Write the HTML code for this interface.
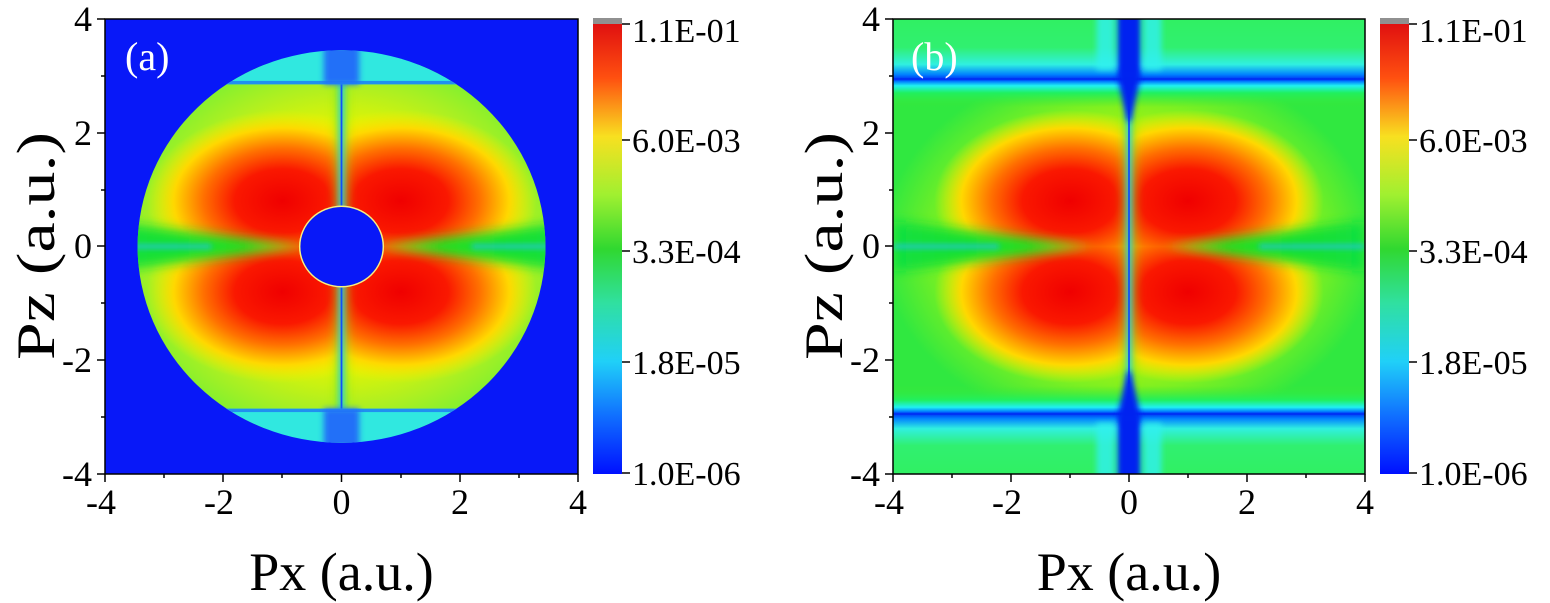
<!DOCTYPE html>
<html><head><style>body{margin:0;background:#fff}svg{display:block}text{font-family:"Liberation Serif",serif;fill:#000}</style></head><body>
<svg width="1550" height="603" viewBox="0 0 1550 603">
<defs>
<filter id="bl" filterUnits="userSpaceOnUse" x="-5" y="-5" width="10" height="10"><feGaussianBlur stdDeviation="0.1"/></filter>
<filter id="bl2" filterUnits="userSpaceOnUse" x="-5" y="-5" width="10" height="10"><feGaussianBlur stdDeviation="0.05"/></filter>
<radialGradient id="lobe" cx="0.5" cy="0.5" r="0.5">
<stop offset="0" stop-color="#f00000"/>
<stop offset="0.35" stop-color="#fa1800"/>
<stop offset="0.58" stop-color="#ff7000"/>
<stop offset="0.8" stop-color="#ffd800"/>
<stop offset="1" stop-color="#f0f000" stop-opacity="0"/>
</radialGradient>
<radialGradient id="base" cx="0.5" cy="0.5" r="0.5">
<stop offset="0" stop-color="#f0f000"/>
<stop offset="0.6" stop-color="#e8f400"/>
<stop offset="0.82" stop-color="#b0f020"/>
<stop offset="1" stop-color="#80f030"/>
</radialGradient>
<radialGradient id="baseb" cx="0.5" cy="0.5" r="0.5">
<stop offset="0" stop-color="#f0f000"/>
<stop offset="0.5" stop-color="#d8f400"/>
<stop offset="0.75" stop-color="#80f020"/>
<stop offset="1" stop-color="#30e840"/>
</radialGradient>
<linearGradient id="wedge" x1="0" x2="1" y1="0" y2="0">
<stop offset="0" stop-color="#a0f020"/>
<stop offset="0.3" stop-color="#20e020"/>
<stop offset="1" stop-color="#10e040"/>
</linearGradient>
<linearGradient id="wedgeL" x1="1" x2="0" y1="0" y2="0">
<stop offset="0" stop-color="#a0f020"/>
<stop offset="0.3" stop-color="#20e020"/>
<stop offset="1" stop-color="#10e040"/>
</linearGradient>
<linearGradient id="band" x1="0" x2="0" y1="0" y2="1">
<stop offset="0" stop-color="#30f060"/>
<stop offset="0.5" stop-color="#30f070"/>
<stop offset="0.75" stop-color="#30f0e0"/>
<stop offset="0.9" stop-color="#0080ff"/>
<stop offset="1" stop-color="#0010f0"/>
</linearGradient>
<linearGradient id="band2" x1="0" x2="0" y1="0" y2="1">
<stop offset="0" stop-color="#0010f0"/>
<stop offset="0.1" stop-color="#0080ff"/>
<stop offset="0.25" stop-color="#20f0f0"/>
<stop offset="0.5" stop-color="#20f060"/>
<stop offset="1" stop-color="#40e830" stop-opacity="0"/>
</linearGradient>
<linearGradient id="cb" x1="0" x2="0" y1="0" y2="1">
<stop offset="0" stop-color="#e01010"/>
<stop offset="0.12" stop-color="#ff5010"/>
<stop offset="0.25" stop-color="#f8e020"/>
<stop offset="0.38" stop-color="#a0f030"/>
<stop offset="0.5" stop-color="#30d830"/>
<stop offset="0.62" stop-color="#30e0a0"/>
<stop offset="0.75" stop-color="#20d0f8"/>
<stop offset="0.87" stop-color="#1070ff"/>
<stop offset="1" stop-color="#0010ff"/>
</linearGradient>
<clipPath id="ca"><rect x="105" y="19" width="473" height="455"/></clipPath>
<clipPath id="cbp"><rect x="893" y="19" width="472" height="455"/></clipPath>
<clipPath id="circ"><circle cx="0" cy="0" r="3.45"/></clipPath>
<clipPath id="q1"><rect x="0" y="0" width="5" height="5"/></clipPath>
<clipPath id="q2"><rect x="-5" y="0" width="5" height="5"/></clipPath>
<clipPath id="q3"><rect x="-5" y="-5" width="5" height="5"/></clipPath>
<clipPath id="q4"><rect x="0" y="-5" width="5" height="5"/></clipPath>
<g id="lobes">
<ellipse cx="-1.0" cy="0.8" rx="2.3" ry="1.6" fill="url(#lobe)" clip-path="url(#q2)"/>
<ellipse cx="-1.0" cy="-0.8" rx="2.3" ry="1.6" fill="url(#lobe)" clip-path="url(#q3)"/>
<ellipse cx="1.0" cy="0.8" rx="2.3" ry="1.6" fill="url(#lobe)" clip-path="url(#q1)"/>
<ellipse cx="1.0" cy="-0.8" rx="2.3" ry="1.6" fill="url(#lobe)" clip-path="url(#q4)"/>
<g filter="url(#bl)">
<polygon points="0.6,0 4,-0.45 4,0.45" fill="url(#wedge)"/>
<polygon points="-0.6,0 -4,-0.45 -4,0.45" fill="url(#wedgeL)"/>
<rect x="-0.06" y="-4" width="0.12" height="8" fill="#70e828"/>
</g>
<g filter="url(#bl2)">
<rect x="-0.04" y="-4" width="0.08" height="8" fill="#20d0f0"/>
<rect x="-4" y="-0.03" width="1.8" height="0.06" fill="#20c0f0"/>
<rect x="2.2" y="-0.03" width="1.8" height="0.06" fill="#20c0f0"/>
</g>
<rect x="-0.015" y="-4" width="0.03" height="8" fill="#1050f8"/>
</g>
</defs>

<!-- Panel a -->
<rect x="105" y="19" width="473" height="455" fill="#0818f8"/>
<g clip-path="url(#ca)">
<g transform="translate(341.5,246.5) scale(59.1,56.9)">
<g clip-path="url(#circ)">
<ellipse cx="0" cy="0" rx="3.8" ry="3.4" fill="url(#base)"/>
<use href="#lobes"/>
<rect x="-4" y="2.85" width="8" height="1.2" fill="#30e8e0"/>
<rect x="-4" y="-4.05" width="8" height="1.2" fill="#30e8e0"/>
<rect x="-4" y="2.85" width="8" height="0.06" fill="#2090f0"/>
<rect x="-4" y="-2.91" width="8" height="0.06" fill="#2090f0"/>
<rect x="-0.3" y="2.85" width="0.6" height="1.2" fill="#2070f8" filter="url(#bl2)"/>
<rect x="-0.3" y="-4.05" width="0.6" height="1.2" fill="#2070f8" filter="url(#bl2)"/>
</g>
<circle cx="0" cy="0" r="0.72" fill="#f8f080"/>
<circle cx="0" cy="0" r="0.695" fill="#0818f8"/>
</g>
</g>
<rect x="105" y="19" width="473" height="455" fill="none" stroke="#000" stroke-width="1.5"/>
<text x="125" y="70" font-size="40" style="fill:#fff">(a)</text>

<!-- Panel b -->
<g clip-path="url(#cbp)">
<g transform="translate(1129,246.5) scale(59,56.9)">
<rect x="-4" y="-4" width="8" height="8" fill="#30e840"/>
<ellipse cx="0" cy="0" rx="4.2" ry="3.3" fill="url(#baseb)"/>
<use href="#lobes"/>
<rect x="-4" y="-4.1" width="8" height="1.2" fill="url(#band)"/>
<g transform="scale(1,-1)"><rect x="-4" y="-4.1" width="8" height="1.2" fill="url(#band)"/></g>
<rect x="-4" y="-2.95" width="8" height="0.5" fill="url(#band2)"/>
<g transform="scale(1,-1)"><rect x="-4" y="-2.95" width="8" height="0.5" fill="url(#band2)"/></g>
<g filter="url(#bl2)">
<rect x="-0.55" y="-4.1" width="0.3" height="1.0" fill="#30f0f0" opacity="0.8"/>
<rect x="0.25" y="-4.1" width="0.3" height="1.0" fill="#30f0f0" opacity="0.8"/>
<rect x="-0.55" y="3.1" width="0.3" height="1.0" fill="#30f0f0" opacity="0.8"/>
<rect x="0.25" y="3.1" width="0.3" height="1.0" fill="#30f0f0" opacity="0.8"/>
<rect x="-0.2" y="-4.1" width="0.4" height="1.1" fill="#0020f0"/>
<rect x="-0.2" y="3.0" width="0.4" height="1.1" fill="#0020f0"/>
<polygon points="-0.2,-3 0.2,-3 0.03,-2.2 -0.03,-2.2" fill="#0020f0"/>
<polygon points="-0.2,3 0.2,3 0.03,2.2 -0.03,2.2" fill="#0020f0"/>
</g>
</g>
</g>
<rect x="893" y="19" width="472" height="455" fill="none" stroke="#000" stroke-width="1.5"/>
<text x="911" y="70" font-size="40" style="fill:#fff">(b)</text>

<!-- colorbars -->
<rect x="593" y="18" width="29" height="6" fill="#909090"/>
<rect x="593" y="24" width="29" height="450" fill="url(#cb)"/>
<rect x="1380" y="18" width="29" height="6" fill="#909090"/>
<rect x="1380" y="24" width="29" height="450" fill="url(#cb)"/>
<g font-size="34">
<text x="632" y="42">1.1E-01</text><text x="632" y="152">6.0E-03</text><text x="632" y="263">3.3E-04</text><text x="632" y="374">1.8E-05</text><text x="632" y="485">1.0E-06</text>
<text x="1419" y="42">1.1E-01</text><text x="1419" y="152">6.0E-03</text><text x="1419" y="263">3.3E-04</text><text x="1419" y="374">1.8E-05</text><text x="1419" y="485">1.0E-06</text>
</g>
<g stroke="#000" stroke-width="1.5">
<line x1="622" y1="24" x2="630" y2="24"/><line x1="622" y1="140" x2="630" y2="140"/><line x1="622" y1="251" x2="630" y2="251"/><line x1="622" y1="362" x2="630" y2="362"/><line x1="622" y1="473" x2="630" y2="473"/>
<line x1="1409" y1="24" x2="1417" y2="24"/><line x1="1409" y1="140" x2="1417" y2="140"/><line x1="1409" y1="251" x2="1417" y2="251"/><line x1="1409" y1="362" x2="1417" y2="362"/><line x1="1409" y1="473" x2="1417" y2="473"/>
<line x1="97" y1="19" x2="105" y2="19"/><line x1="97" y1="133" x2="105" y2="133"/><line x1="97" y1="246" x2="105" y2="246"/><line x1="97" y1="360" x2="105" y2="360"/><line x1="97" y1="474" x2="105" y2="474"/>
<line x1="101" y1="76" x2="105" y2="76"/><line x1="101" y1="190" x2="105" y2="190"/><line x1="101" y1="303" x2="105" y2="303"/><line x1="101" y1="417" x2="105" y2="417"/>
<line x1="105" y1="474" x2="105" y2="482"/><line x1="223" y1="474" x2="223" y2="482"/><line x1="341.5" y1="474" x2="341.5" y2="482"/><line x1="460" y1="474" x2="460" y2="482"/><line x1="578" y1="474" x2="578" y2="482"/>
<line x1="164" y1="474" x2="164" y2="478"/><line x1="282" y1="474" x2="282" y2="478"/><line x1="401" y1="474" x2="401" y2="478"/><line x1="519" y1="474" x2="519" y2="478"/>
<line x1="885" y1="19" x2="893" y2="19"/><line x1="885" y1="133" x2="893" y2="133"/><line x1="885" y1="246" x2="893" y2="246"/><line x1="885" y1="360" x2="893" y2="360"/><line x1="885" y1="474" x2="893" y2="474"/>
<line x1="889" y1="76" x2="893" y2="76"/><line x1="889" y1="190" x2="893" y2="190"/><line x1="889" y1="303" x2="893" y2="303"/><line x1="889" y1="417" x2="893" y2="417"/>
<line x1="893" y1="474" x2="893" y2="482"/><line x1="1011" y1="474" x2="1011" y2="482"/><line x1="1129" y1="474" x2="1129" y2="482"/><line x1="1247" y1="474" x2="1247" y2="482"/><line x1="1365" y1="474" x2="1365" y2="482"/>
<line x1="952" y1="474" x2="952" y2="478"/><line x1="1070" y1="474" x2="1070" y2="478"/><line x1="1188" y1="474" x2="1188" y2="478"/><line x1="1306" y1="474" x2="1306" y2="478"/>
</g>
<g font-size="36" text-anchor="end">
<text x="92" y="31">4</text><text x="92" y="145">2</text><text x="92" y="258">0</text><text x="92" y="372">-2</text><text x="92" y="486">-4</text>
<text x="880" y="31">4</text><text x="880" y="145">2</text><text x="880" y="258">0</text><text x="880" y="372">-2</text><text x="880" y="486">-4</text>
</g>
<g font-size="36" text-anchor="middle">
<text x="101" y="514">-4</text><text x="219" y="514">-2</text><text x="341.5" y="514">0</text><text x="460" y="514">2</text><text x="578" y="514">4</text>
<text x="889" y="514">-4</text><text x="1007" y="514">-2</text><text x="1129" y="514">0</text><text x="1247" y="514">2</text><text x="1365" y="514">4</text>
</g>
<g font-size="54" text-anchor="middle">
<text x="341.5" y="590">Px (a.u.)</text>
<text x="1129" y="590">Px (a.u.)</text>
<text transform="translate(54,246) rotate(-90)" textLength="228" lengthAdjust="spacingAndGlyphs">Pz (a.u.)</text>
<text transform="translate(842,246) rotate(-90)" textLength="228" lengthAdjust="spacingAndGlyphs">Pz (a.u.)</text>
</g>
</svg>
</body></html>
